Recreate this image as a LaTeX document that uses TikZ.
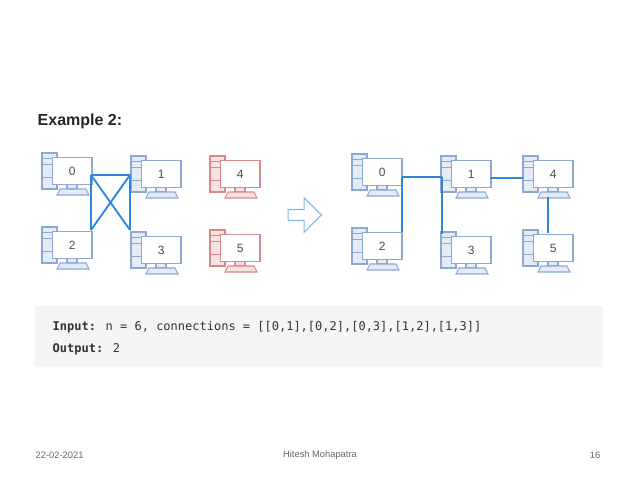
\documentclass[tikz,border=0pt]{standalone}
\usepackage{fontspec}
\setmainfont{Liberation Sans}
\newfontfamily\codefont{DejaVu Sans Mono}
\usetikzlibrary{shapes.arrows}
\definecolor{bo}{HTML}{8EA8D4}\definecolor{bf}{HTML}{E3EBF7}
\definecolor{ro}{HTML}{D88A8A}\definecolor{rf}{HTML}{F7E1E1}
\definecolor{edge}{HTML}{2E86DE}
\tikzset{mon/.style={draw=#1o,fill=white,line width=0.9pt,minimum width=29.5pt,minimum height=20pt,inner sep=0pt,font=\small,text=black!70},
edgeline/.style={draw=edge,line width=1.4pt}}
% \comp{name}{mx}{my}{label}{b|r}
\newcommand\comp[5]{%
 \draw[draw=#5o,fill=#5f,line width=0.8pt] (#2-10,#3-4) rectangle (#2+5,#3+32);
 \draw[draw=#5o,line width=0.6pt] (#2-10,#3+1)--(#2,#3+1) (#2-10,#3+7)--(#2,#3+7) (#2-10,#3+20)--(#2,#3+20);
 \draw[draw=#5o,fill=#5f,line width=0.8pt] (#2+15,#3+26) rectangle (#2+25,#3+32);
 \draw[draw=#5o,fill=#5f,line width=0.8pt] (#2+5,#3+38)--(#2+8,#3+32)--(#2+34,#3+32)--(#2+37,#3+38)--cycle;
 \node[mon=#5,anchor=north west] (#1) at (#2,#3) {#4};}
\begin{document}
\begin{tikzpicture}[x=0.75pt,y=-0.75pt]
\useasboundingbox (0,0) rectangle (638,478);
\node[anchor=west,font=\large\bfseries,text=black!85] (title) at (33,121) {Example 2:};
% left
\comp{a0}{52}{157}{0}{b}
\comp{a1}{141}{160}{1}{b}
\comp{a2}{52}{231}{2}{b}
\comp{a3}{141}{236}{3}{b}
\comp{a4}{220}{160}{4}{r}
\comp{a5}{220}{234}{5}{r}
\coordinate (p0) at (91,175);\coordinate (p1) at (130,175);
\coordinate (p2) at (91,230);\coordinate (p3) at (130,230);
\draw[edgeline] (p0)--(p1) (p0)--(p2) (p0)--(p3) (p1)--(p2) (p1)--(p3);
% arrow
\node[single arrow,draw=edge!60,fill=white,line width=0.8pt,minimum width=26pt,single arrow head extend=3pt,minimum height=25pt,inner sep=1pt] (arr) at (302,215) {};
% right
\comp{b0}{362}{158}{0}{b}
\comp{b1}{451}{160}{1}{b}
\comp{b2}{362}{232}{2}{b}
\comp{b3}{451}{236}{3}{b}
\comp{b4}{533}{160}{4}{b}
\comp{b5}{533}{234}{5}{b}
\coordinate (q0) at (402,177);\coordinate (q1) at (442,177);
\coordinate (q2) at (402,232);\coordinate (q3) at (442,234);
\coordinate (q1r) at (490,178);\coordinate (q4) at (523,178);
\coordinate (q4b) at (548,197);\coordinate (q5) at (548,233);
\draw[edgeline] (q0)--(q1) (q0)--(q2) (q1)--(q3) (q1r)--(q4) (q4b)--(q5);
% code box
\fill[black!4] (35,306) rectangle (603,367);
\node[anchor=west,font=\codefont\small,text=black!80] (in) at (48,327) {\textbf{Input:} n = 6, connections = [[0,1],[0,2],[0,3],[1,2],[1,3]]};
\node[anchor=west,font=\codefont\small,text=black!80] (out) at (48,349) {\textbf{Output:} 2};
% footer
\node[anchor=west,font=\scriptsize,text=black!60] (d) at (31,455) {22-02-2021};
\node[font=\scriptsize,text=black!60] (au) at (320,455) {Hitesh Mohapatra};
\node[font=\scriptsize,text=black!60] (pg) at (595,455) {16};
\end{tikzpicture}
\end{document}
